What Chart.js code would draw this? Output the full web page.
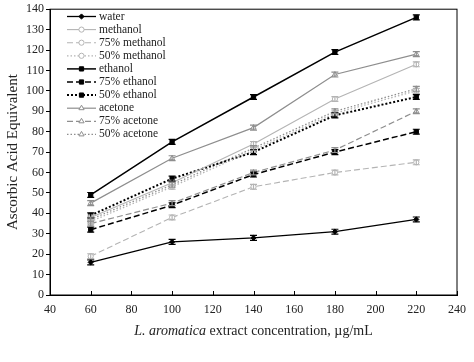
<!DOCTYPE html>
<html>
<head>
<meta charset="utf-8">
<script src="https://cdn.jsdelivr.net/npm/chart.js@4.4.1/dist/chart.umd.min.js"></script>
<style>
  html, body { margin: 0; padding: 0; background: #fff; }
</style>
</head>
<body>
<canvas id="chart" width="474" height="362"></canvas>
<script>
// concentrations (ug/mL) and the values
const concentrations = [60, 100, 140, 180, 220];
const water = [16, 26, 28, 31, 37];
const methanol = [38, 55, 74, 96, 113];
const methanol75 = [19, 38, 53, 60, 65];
const methanol50 = [36, 53, 71, 89, 100];
const ethanol = [49, 75, 97, 119, 136];
const ethanol75 = [32, 44, 59, 70, 80];
const ethanol50 = [39, 57, 70, 88, 97];
const acetone = [45, 67, 82, 108, 118];
const acetone75 = [35, 45, 60, 71, 90];
const acetone50 = [37, 54, 72, 90, 101];
const errorSize = 1.2;

const xTicks = [40, 60, 80, 100, 120, 140, 160, 180, 200, 220, 240];
const yMax = 140;

const FONT = 'Liberation Serif';
const LIGHT = '#b4b4b4';
const MID = '#8e8e8e';

const series = [
  { label: 'water', data: water, color: '#000', dash: [], width: 1.3, point: 'rectRot', fill: '#000', r: 2.6 },
  { label: 'methanol', data: methanol, color: LIGHT, dash: [], width: 1.1, point: 'circle', fill: '#fff', r: 2.6 },
  { label: '75% methanol', data: methanol75, color: LIGHT, dash: [6, 3], width: 1.1, point: 'circle', fill: '#fff', r: 2.6 },
  { label: '50% methanol', data: methanol50, color: LIGHT, dash: [1.5, 2], width: 1.3, point: 'circle', fill: '#fff', r: 2.6 },
  { label: 'ethanol', data: ethanol, color: '#000', dash: [], width: 1.5, point: 'rect', fill: '#000', r: 3 },
  { label: '75% ethanol', data: ethanol75, color: '#000', dash: [6, 3], width: 1.5, point: 'rect', fill: '#000', r: 3 },
  { label: '50% ethanol', data: ethanol50, color: '#000', dash: [2, 2], width: 2, point: 'rect', fill: '#000', r: 3 },
  { label: 'acetone', data: acetone, color: MID, dash: [], width: 1.2, point: 'triangle', fill: '#fff', r: 3 },
  { label: '75% acetone', data: acetone75, color: MID, dash: [6, 3], width: 1.2, point: 'triangle', fill: '#fff', r: 3 },
  { label: '50% acetone', data: acetone50, color: MID, dash: [1.5, 2], width: 1.3, point: 'triangle', fill: '#fff', r: 3 }
];

function drawMarker(ctx, s, x, y) {
  ctx.save();
  ctx.setLineDash([]);
  ctx.fillStyle = s.fill;
  ctx.strokeStyle = s.color;
  ctx.lineWidth = 1;
  Chart.helpers.drawPoint(ctx, { pointStyle: s.point, radius: s.r, borderWidth: 1, rotation: 0 }, x, y);
  ctx.restore();
}

// error bars, frame, inward x ticks, legend, x axis title
const extras = {
  id: 'extras',
  afterDatasetsDraw(chart) {
    const ctx = chart.ctx;
    const ys = chart.scales.y;
    chart.data.datasets.forEach((ds, i) => {
      const meta = chart.getDatasetMeta(i);
      ctx.save();
      ctx.strokeStyle = series[i].color;
      ctx.lineWidth = 1.2;
      meta.data.forEach((pt, j) => {
        const v = ds.data[j].y;
        const top = ys.getPixelForValue(v + errorSize);
        const bot = ys.getPixelForValue(v - errorSize);
        ctx.beginPath();
        ctx.moveTo(pt.x, top); ctx.lineTo(pt.x, bot);
        ctx.moveTo(pt.x - 3.5, top); ctx.lineTo(pt.x + 3.5, top);
        ctx.moveTo(pt.x - 3.5, bot); ctx.lineTo(pt.x + 3.5, bot);
        ctx.stroke();
      });
      ctx.restore();
    });
  },
  afterDraw(chart) {
    const ctx = chart.ctx;
    const a = chart.chartArea;
    const xs = chart.scales.x;
    ctx.save();
    ctx.strokeStyle = '#000';
    ctx.lineWidth = 1;
    ctx.strokeRect(a.left, a.top, a.right - a.left, a.bottom - a.top);
    ctx.beginPath();
    xTicks.forEach(t => {
      const px = Math.round(xs.getPixelForValue(t)) + 0.5;
      ctx.moveTo(px, a.bottom);
      ctx.lineTo(px, a.bottom - 4);
    });
    ctx.stroke();

    // legend
    ctx.font = '11.5px "' + FONT + '"';
    ctx.textBaseline = 'middle';
    ctx.textAlign = 'left';
    series.forEach((s, i) => {
      const y = 16.5 + i * 13.1;
      ctx.save();
      ctx.strokeStyle = s.color;
      ctx.lineWidth = s.width;
      ctx.setLineDash(s.dash);
      ctx.beginPath();
      ctx.moveTo(67, y); ctx.lineTo(96, y);
      ctx.stroke();
      ctx.restore();
      drawMarker(ctx, s, 81.5, y);
      ctx.fillStyle = '#222';
      ctx.fillText(s.label, 99, y);
    });

    // x title with italic species name
    const part1 = 'L. aromatica';
    const part2 = ' extract concentration, \u00b5g/mL';
    ctx.font = 'italic 14px "' + FONT + '"';
    const w1 = ctx.measureText(part1).width;
    ctx.font = '14px "' + FONT + '"';
    const w2 = ctx.measureText(part2).width;
    let x0 = (a.left + a.right) / 2 - (w1 + w2) / 2;
    ctx.fillStyle = '#222';
    ctx.textBaseline = 'middle';
    ctx.font = 'italic 14px "' + FONT + '"';
    ctx.fillText(part1, x0, 331);
    ctx.font = '14px "' + FONT + '"';
    ctx.fillText(part2, x0 + w1, 331);
    ctx.restore();
  }
};

new Chart(document.getElementById('chart'), {
  type: 'line',
  data: {
    datasets: series.map(s => ({
      label: s.label,
      data: concentrations.map((c, i) => ({ x: c, y: s.data[i] })),
      borderColor: s.color,
      borderWidth: s.width,
      borderDash: s.dash,
      pointStyle: s.point,
      pointRadius: s.r,
      pointBackgroundColor: s.fill,
      pointBorderColor: s.color,
      pointBorderWidth: 1,
      tension: 0,
      fill: false
    }))
  },
  options: {
    responsive: false,
    animation: false,
    layout: { padding: { top: 6, right: 9, left: 0, bottom: 0 } },
    plugins: { legend: { display: false }, tooltip: { enabled: false } },
    scales: {
      x: {
        type: 'linear',
        min: 40,
        max: 240,
        afterBuildTicks: s => { s.ticks = xTicks.map(v => ({ value: v })); },
        afterFit: s => { s.height = 67; },
        grid: { drawOnChartArea: false, drawTicks: false },
        border: { color: '#000' },
        ticks: { padding: 8, color: '#222', font: { family: FONT, size: 12 } }
      },
      y: {
        min: 0,
        max: yMax,
        afterFit: s => { s.width = 50; },
        grid: { drawOnChartArea: false, tickLength: 4, color: '#000' },
        border: { color: '#000' },
        ticks: { stepSize: 10, padding: 2, color: '#222', font: { family: FONT, size: 12 } },
        title: { display: true, text: 'Ascorbic Acid Equivalent', color: '#222', padding: { top: 4, bottom: 0 }, font: { family: FONT, size: 15 } }
      }
    }
  },
  plugins: [extras]
});
</script>
</body>
</html>
